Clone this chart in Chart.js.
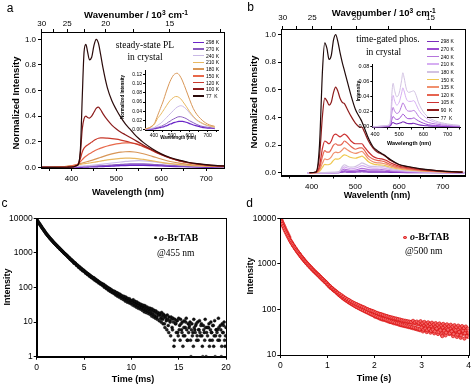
<!DOCTYPE html>
<html><head><meta charset="utf-8">
<script src="https://cdn.jsdelivr.net/npm/chart.js@4.4.1/dist/chart.umd.min.js"></script>
<style>
html,body{margin:0;padding:0;background:#fff;}
#fig{position:relative;width:474px;height:385px;overflow:hidden;background:#fff;font-family:"Liberation Sans",Arial,sans-serif;}
#fig canvas{position:absolute;}
.t{position:absolute;white-space:nowrap;transform:translate(-50%,-50%);line-height:1;color:#000;}
.b{font-weight:bold;}
.r{transform:translate(-50%,-50%) rotate(-90deg);}
.s{font-family:"Liberation Serif","DejaVu Serif",serif;}
sup{font-size:70%;vertical-align:0.45em;line-height:0;}
</style></head><body><div id="fig"></div>
<script>
// ---------------- DATA ----------------
// Panel a: steady-state PL (wavelength nm)
const wlA = [330,360,390,405,412,416,420,424,428,432,436,440,445,450,455,460,465,470,480,490,500,510,520,530,540,550,560,580,600,620,640,660,680,700,720,740];
const a77  = [0,0,0.001,0.005,0.015,0.03,0.15,0.55,0.9,0.96,0.9,0.84,0.86,0.95,1.0,0.97,0.88,0.78,0.62,0.52,0.45,0.39,0.34,0.3,0.26,0.225,0.195,0.145,0.105,0.077,0.056,0.04,0.029,0.021,0.015,0.011];
const a100 = [0,0,0.001,0.005,0.015,0.03,0.12,0.3,0.38,0.4,0.39,0.385,0.4,0.43,0.46,0.47,0.45,0.42,0.37,0.33,0.3,0.275,0.255,0.235,0.215,0.195,0.175,0.135,0.1,0.073,0.053,0.038,0.028,0.02,0.014,0.01];
const a120 = [0,0,0.001,0.005,0.015,0.03,0.07,0.12,0.15,0.165,0.175,0.185,0.197,0.21,0.22,0.227,0.23,0.23,0.228,0.225,0.22,0.213,0.205,0.196,0.186,0.175,0.162,0.13,0.098,0.071,0.051,0.036,0.026,0.018,0.013,0.009];
const a150 = [0,0.001,0.005,0.015,0.022,0.03,0.045,0.06,0.075,0.087,0.097,0.106,0.116,0.126,0.135,0.143,0.15,0.156,0.167,0.176,0.183,0.188,0.191,0.191,0.187,0.18,0.168,0.137,0.103,0.073,0.052,0.036,0.025,0.017,0.012,0.008];
const a180 = [0,0.002,0.008,0.015,0.022,0.026,0.03,0.034,0.038,0.042,0.046,0.05,0.055,0.06,0.066,0.072,0.078,0.084,0.095,0.105,0.113,0.119,0.122,0.123,0.12,0.114,0.106,0.086,0.065,0.046,0.033,0.024,0.017,0.012,0.009,0.007];
const a210 = [0,0.002,0.007,0.013,0.018,0.021,0.024,0.026,0.028,0.03,0.032,0.034,0.037,0.04,0.043,0.046,0.049,0.052,0.058,0.063,0.067,0.07,0.072,0.072,0.07,0.067,0.062,0.051,0.039,0.029,0.021,0.016,0.012,0.009,0.007,0.005];
const a240 = [0,0.001,0.003,0.005,0.007,0.008,0.009,0.01,0.011,0.012,0.013,0.014,0.016,0.018,0.02,0.022,0.024,0.026,0.03,0.034,0.038,0.042,0.046,0.049,0.051,0.052,0.051,0.045,0.036,0.027,0.02,0.015,0.011,0.008,0.006,0.004];
const a270 = [0,0.001,0.002,0.003,0.004,0.004,0.005,0.005,0.006,0.006,0.007,0.007,0.008,0.009,0.01,0.011,0.012,0.013,0.016,0.018,0.021,0.023,0.025,0.027,0.028,0.028,0.027,0.024,0.019,0.015,0.011,0.008,0.006,0.005,0.004,0.003];
const a298 = [0,0.001,0.001,0.002,0.002,0.003,0.003,0.003,0.004,0.004,0.004,0.005,0.005,0.006,0.006,0.007,0.008,0.008,0.01,0.012,0.013,0.015,0.016,0.017,0.018,0.018,0.018,0.016,0.013,0.01,0.008,0.006,0.004,0.003,0.003,0.002];
const legendA = ['298 K','270 K','240 K','210 K','180 K','150 K','120 K','100 K','77  K'];
const colorsA = ['#6a24c8','#8a5cc0','#c9b9e6','#e8b860','#d89656','#e8684a','#c8382a','#8c1c1c','#2a0a0a'];

// Panel b: time-gated phosphorescence
const wlB  = [395,410,418,425,430,435,440,445,450,455,460,465,470,475,480,490,500,510,515,520,530,540,550,560,570,580,600,620,650,700,745];
const b77  = [0,0.005,0.2,0.75,0.94,0.9,0.82,0.85,0.96,1.0,0.95,0.87,0.8,0.74,0.68,0.56,0.46,0.4,0.37,0.33,0.25,0.19,0.16,0.14,0.12,0.095,0.06,0.045,0.028,0.012,0.004];
const b90  = [0,0.005,0.12,0.42,0.54,0.52,0.49,0.51,0.58,0.62,0.59,0.54,0.51,0.5,0.47,0.41,0.36,0.33,0.33,0.3,0.23,0.18,0.15,0.135,0.115,0.09,0.058,0.042,0.026,0.011,0.004];
const b105 = [0,0.003,0.05,0.18,0.23,0.22,0.21,0.23,0.27,0.28,0.27,0.26,0.27,0.28,0.27,0.23,0.21,0.21,0.21,0.19,0.15,0.12,0.105,0.1,0.09,0.072,0.048,0.036,0.022,0.01,0.004];
const b120 = [0,0.002,0.03,0.12,0.16,0.15,0.15,0.17,0.2,0.21,0.2,0.2,0.21,0.23,0.22,0.19,0.17,0.18,0.18,0.165,0.12,0.1,0.09,0.085,0.075,0.06,0.04,0.03,0.019,0.008,0.003];
const b135 = [0,0.001,0.02,0.07,0.1,0.095,0.1,0.115,0.14,0.15,0.145,0.15,0.165,0.18,0.17,0.15,0.14,0.15,0.155,0.14,0.1,0.08,0.072,0.07,0.062,0.05,0.033,0.025,0.016,0.007,0.003];
const b150 = [0,0,0.01,0.04,0.06,0.058,0.06,0.07,0.09,0.1,0.098,0.105,0.12,0.13,0.125,0.11,0.105,0.115,0.12,0.11,0.08,0.064,0.058,0.056,0.05,0.04,0.027,0.02,0.013,0.006,0.002];
const wlBi = [390,420,450,460,465,470,475,480,490,500,510,515,520,530,540,550,560,570,580,600,620,650,700,750];
const b180 = [0,0.001,0.002,0.004,0.015,0.045,0.058,0.05,0.04,0.045,0.062,0.072,0.066,0.05,0.046,0.047,0.048,0.042,0.032,0.02,0.013,0.008,0.004,0.002];
const b210 = [0,0.001,0.002,0.003,0.01,0.032,0.042,0.036,0.029,0.033,0.045,0.052,0.048,0.037,0.034,0.034,0.035,0.03,0.023,0.015,0.01,0.006,0.003,0.002];
const b240 = [0,0,0.001,0.002,0.006,0.02,0.026,0.022,0.018,0.02,0.028,0.032,0.03,0.023,0.021,0.021,0.022,0.019,0.014,0.009,0.006,0.004,0.002,0.001];
const b270 = [0,0,0.001,0.001,0.003,0.01,0.014,0.012,0.01,0.011,0.015,0.017,0.016,0.012,0.011,0.011,0.012,0.01,0.008,0.005,0.003,0.002,0.001,0.001];
const b298 = [0,0,0,0.001,0.002,0.005,0.006,0.005,0.004,0.005,0.006,0.007,0.0065,0.005,0.0045,0.0045,0.005,0.004,0.003,0.002,0.0015,0.001,0.0005,0];
const legendB = ['298 K','270 K','240 K','210 K','180 K','150 K','135 K','120 K','105 K','90  K','77  K'];
const colorsB = ['#7a2cba','#9c4cd2','#b474dc','#d6aef2','#d2c2e2','#efc850','#f0906e','#e66450','#cc3030','#8e1c1c','#200a0a'];

// Top axis: wavenumber (10^3 cm^-1)
const nuTicks  = [30,27.5,25,22.5,20,17.5,15,12.5];
const nuLabels = ['30','','25','','20','','15',''];

// Panel c: decay @455 nm; yC at t = i*0.1 ms, yC2 at t = 0.05 + i*0.1 ms
const C_STEP = 0.1;
const yC = [9200,8300,7600,6900,6300,5700,5200,4750,4350,3950,3600,
 3350,3100,2880,2650,2480,2300,2150,2000,1880,1760,
 1650,1540,1450,1360,1280,1200,1120,1060,990,930,
 880,835,770,740,680,660,600,590,540,520,
 495,450,445,405,400,365,360,325,325,295,
 285,275,255,250,232,228,210,206,195,185,
 178,170,160,158,146,144,134,133,124,120,
 118,106,108,96,99,88,92,80,84,76,
 74,78,66,72,62,68,58,64,55,58,
 52,56,47,53,44,49,41,47,38,42,
 37,44,34,40,31,38,30,35,27,33,
 26,31,24,30,22,28,21,26,20,25,
 18,24,17,22,15,21,14,19,16,18,
 13,19,12,17,9,15,11,16,8,14,
 10,14,7,13,2,12,9,11,5,13,
 8,12,6,10,4,11,7,13,3,9,
 7,10,1,9,5,12,6,8,3,10,
 6,11,4,9,2,8,5,12,1,7,
 7,9,3,10,5,8,2,11,4,6,
 6,13,3,8,1,9,5,10,2,7];
const yC2 = [8800,7900,7200,6600,6000,5450,4950,4550,4150,3780,
 3500,3200,3000,2750,2560,2400,2230,2080,1930,1820,
 1700,1600,1480,1420,1300,1250,1150,1100,1010,960,
 920,850,810,750,720,650,640,580,565,505,
 510,470,430,425,380,385,340,345,305,310,
 300,262,268,238,245,215,222,196,202,178,
 190,162,172,148,157,136,142,125,131,114,
 125,102,113,93,103,85,95,78,88,72,
 80,67,75,61,70,56,64,52,60,48,
 55,45,51,41,48,38,45,36,42,34,
 40,31,38,29,35,27,33,25,31,24,
 29,22,28,20,27,19,25,18,23,17,
 22,15,21,14,20,13,18,12,17,11,
 16,10,15,9,14,7,13,6,12,5,
 11,4,12,6,10,3,9,5,11,4,
 6,3,9,5,2,7,4,10,6,3,
 5,8,3,6,4,2,7,5,9,4,
 3,6,5,8,4,1,6,3,7,5,
 4,7,2,6,5,3,8,4,1,6,
 5,3,7,4,6,2,5,8,3,4];
// Panel d: decay @500 nm; yD at t = i*0.02 s, yD2 at t = 0.01 + i*0.02 s
const D_STEP = 0.02;
const yD = [9500,8400,7500,6700,6000,5400,4900,4450,4050,3700,3400,
 3150,2900,2700,2500,2330,2170,2020,1890,1770,1650,
 1560,1450,1380,1290,1230,1150,1100,1030,990,930,
 890,840,810,760,730,690,665,630,605,575,
 555,520,505,475,460,430,420,395,385,355,
 345,320,318,295,292,272,270,252,250,235,
 232,212,218,196,204,184,190,170,178,160,
 168,150,160,140,150,132,142,125,136,118,
 130,112,124,106,119,101,114,96,110,92,
 104,88,100,84,96,80,93,77,90,74,
 86,71,83,68,80,66,78,63,76,62,
 73,60,71,58,69,56,67,54,66,53,
 64,51,63,50,61,49,60,47,58,46,
 57,45,56,44,55,43,54,42,53,41,
 56,40,52,39,54,38,51,37,55,40,
 50,36,53,38,49,35,52,37,48,34,
 51,36,47,33,50,38,46,32,49,35,
 45,26,48,34,44,31,47,36,43,30,
 46,33,42,29,45,35,41,28,44,32,
 40,27,43,34,39,30,42,26,38,31];
const yD2 = [9900,8900,7900,7100,6400,5700,5150,4700,4250,3850,
 3300,3000,2850,2550,2450,2200,2130,1920,1850,1690,
 1640,1480,1440,1310,1280,1170,1140,1050,1020,940,
 920,850,830,770,750,700,680,640,620,580,
 570,530,515,480,470,440,430,400,392,365,
 355,330,324,300,296,278,272,256,252,238,
 226,220,208,202,192,196,176,182,164,170,
 154,162,144,152,136,145,128,138,121,131,
 114,127,109,121,104,116,99,111,95,107,
 90,102,86,98,82,95,78,92,75,88,
 70,84,68,81,65,79,62,77,60,74,
 59,72,57,70,55,68,53,66,52,64,
 50,62,49,61,48,59,46,58,45,56,
 44,55,43,54,42,53,41,52,40,51,
 39,50,38,49,37,48,36,47,35,46,
 42,33,45,36,41,32,44,35,40,31,
 43,34,39,30,42,37,38,29,41,33,
 37,28,40,32,36,27,39,34,35,29,
 38,30,34,26,37,31,33,25,36,28,
 32,24,35,29,31,23,34,28,30,25];

// ---------------- HELPERS ----------------
const fig = document.getElementById('fig');
const FONT = '"Liberation Sans", Arial, sans-serif';
const framePlugin = {id:'frame', afterDraw(c){
  const a=c.chartArea, x=c.ctx; x.save(); x.strokeStyle='#000'; x.lineWidth=1;
  const l=Math.round(a.left), t=Math.round(a.top), r=Math.round(a.right), b=Math.round(a.bottom);
  x.strokeRect(l+0.5,t+0.5,r-l,b-t); x.restore(); }};

function ax(o){
  const fs=o.fs||8, tl=(o.tl===undefined)?3:o.tl;
  const s = {type:o.type||'linear', position:o.pos, min:o.min, max:o.max, display:true,
    grid:{display:true, drawOnChartArea:false, drawTicks:tl>0, tickLength:tl, color:'#000', lineWidth:1},
    border:{display:true, color:'#000', width:1},
    ticks:{display:o.labels!==false, color:'#000', font:{family:FONT,size:fs}, autoSkip:false, maxRotation:0, minRotation:0,
      padding:(o.pad===undefined)?2:o.pad, callback:o.cb||((v)=>String(v))},
    afterBuildTicks:(sc)=>{ sc.ticks=o.ticks.map(v=>({value:v})); },
    afterFit:(sc)=>{ if(o.pos==='left'||o.pos==='right') sc.width=o.size; else sc.height=o.size; }
  };
  if (o.pos==='top' || o.pos==='bottom') s.axis='x'; else s.axis='y';
  return s;
}
function series(xs, ys, color, w){
  return {data:xs.map((x,i)=>({x:x,y:ys[i]})), borderColor:color, backgroundColor:color, borderWidth:w||1.2,
    pointRadius:0, fill:false, cubicInterpolationMode:'monotone'};
}
function dots(ys, step, offset, r, fillc, edge, bw){
  return {data:ys.map((v,i)=>({x:offset+i*step,y:v})), pointRadius:r, pointBackgroundColor:fillc,
    pointBorderColor:edge, pointBorderWidth:bw, showLine:false};
}
function makeChart(o){
  const cv=document.createElement('canvas');
  cv.width=o.w; cv.height=o.h; cv.style.left=o.x+'px'; cv.style.top=o.y+'px';
  cv.style.width=o.w+'px'; cv.style.height=o.h+'px';
  fig.appendChild(cv);
  return new Chart(cv.getContext('2d'), {
    type:o.type||'line', data:{datasets:o.datasets},
    options:{responsive:false, animation:false, devicePixelRatio:1,
      layout:{padding:o.padding}, parsing:true,
      plugins:{legend:{display:false}, tooltip:{enabled:false}},
      scales:o.scales},
    plugins:o.frame?[framePlugin]:[]
  });
}
function txt(html, x, y, size, cls, extra){
  const d=document.createElement('div'); d.className='t '+(cls||''); d.innerHTML=html;
  d.style.left=x+'px'; d.style.top=y+'px'; d.style.fontSize=size+'px';
  if(extra) Object.assign(d.style, extra);
  fig.appendChild(d); return d;
}
function legend(names, colors, x0, y0, dy, len, fs){
  names.forEach((n,i)=>{
    const y=y0+i*dy;
    const ln=document.createElement('div');
    ln.style.cssText='position:absolute;left:'+x0+'px;top:'+(y-0.75)+'px;width:'+len+'px;height:1.5px;background:'+colors[i];
    fig.appendChild(ln);
    txt(n.replace(/ /g,'&nbsp;'), x0+len+2, y, fs, '', {transform:'translate(0,-50%)'});
  });
}
const lbl100 = (v)=> (v%100===0? String(v):'');
const nuCb = (v,i)=> nuLabels[i];
const nuVals = nuTicks.map(n=>10000/n);

// ---------------- PANEL A ----------------
makeChart({x:0,y:0,w:237,h:200, frame:true, padding:{left:0,top:0,right:13,bottom:0},
  datasets:[
    series(wlA,a77,colorsA[8]), series(wlA,a100,colorsA[7]), series(wlA,a120,colorsA[6]),
    series(wlA,a150,colorsA[5]), series(wlA,a180,colorsA[4]), series(wlA,a210,colorsA[3]),
    series(wlA,a240,colorsA[2]), series(wlA,a270,colorsA[1]), series(wlA,a298,colorsA[0],1.8)],
  scales:{
    x: ax({pos:'bottom',min:332,max:740,ticks:[350,400,450,500,550,600,650,700],cb:lbl100,size:32,pad:3}),
    x2: ax({pos:'top',min:331.5,max:808,ticks:nuVals,cb:nuCb,size:32,pad:0}),
    y: ax({pos:'left',min:-0.005,max:1.057,ticks:[0,0.2,0.4,0.6,0.8,1.0],cb:(v)=>v.toFixed(1),size:41})
  }});
// inset a
makeChart({x:128,y:65,w:95,h:75, padding:{left:0,top:5,right:4.7,bottom:0},
  datasets:[series(wlA,a180,colorsA[4],1), series(wlA,a210,colorsA[3],1), series(wlA,a240,colorsA[2],1),
            series(wlA,a270,colorsA[1],1), series(wlA,a298,colorsA[0],1.2)],
  scales:{
    x: ax({pos:'bottom',min:350,max:760,ticks:[400,450,500,550,600,650,700,750],cb:lbl100,size:10,fs:5,tl:2,pad:1}),
    y: ax({pos:'left',min:-0.001,max:0.13,ticks:[0,0.02,0.04,0.06,0.08,0.1,0.12],cb:(v)=>v.toFixed(2),size:17,fs:5,tl:2,pad:1})
  }});

// ---------------- PANEL B ----------------
makeChart({x:237,y:0,w:237,h:200, frame:true, padding:{left:0,top:0,right:9.3,bottom:0},
  datasets:[
    series(wlB,b77,colorsB[10]), series(wlB,b90,colorsB[9]), series(wlB,b105,colorsB[8]),
    series(wlB,b120,colorsB[7]), series(wlB,b135,colorsB[6]), series(wlB,b150,colorsB[5]),
    series(wlBi,b180,colorsB[4]), series(wlBi,b210,colorsB[3]), series(wlBi,b240,colorsB[2]),
    series(wlBi,b270,colorsB[1]), series(wlBi,b298,colorsB[0])],
  scales:{
    x: ax({pos:'bottom',min:330,max:750,ticks:[350,400,450,500,550,600,650,700],cb:lbl100,size:24.5,pad:3}),
    x2: ax({pos:'top',min:329.5,max:744.1,ticks:nuVals.slice(0,7),cb:nuCb,size:29,pad:3}),
    y: ax({pos:'left',min:-0.02,max:1.041,ticks:[0,0.2,0.4,0.6,0.8,1.0],cb:(v)=>v.toFixed(1),size:44})
  }});
// inset b
makeChart({x:355,y:60,w:112,h:80, padding:{left:0,top:4.7,right:7,bottom:0},
  datasets:[series(wlBi,b180,colorsB[4],1), series(wlBi,b210,colorsB[3],1), series(wlBi,b240,colorsB[2],1),
            series(wlBi,b270,colorsB[1],1), series(wlBi,b298,colorsB[0],1.1)],
  scales:{
    x: ax({pos:'bottom',min:389,max:751,ticks:[400,450,500,550,600,650,700,750],cb:lbl100,size:12.5,fs:5.5,tl:2,pad:2}),
    y: ax({pos:'left',min:-0.0007,max:0.0827,ticks:[0,0.02,0.04,0.06,0.08],cb:(v)=>v.toFixed(2),size:17.3,fs:5.5,tl:2,pad:1})
  }});

// ---------------- PANEL C ----------------
makeChart({x:0,y:200,w:237,h:185, type:'scatter', frame:true, padding:{left:0,top:18.3,right:11,bottom:0},
  datasets:[dots(yC, C_STEP, 0, 1.5, '#111', '#000', 0.4), dots(yC2, C_STEP, 0.05, 1.5, '#222', '#000', 0.4)],
  scales:{
    x: ax({pos:'bottom',min:0,max:20,ticks:[0,5,10,15,20],size:28.3,fs:8.5,pad:3}),
    y: ax({type:'logarithmic',pos:'left',min:1,max:10000,ticks:[1,10,100,1000,10000],size:36.7,fs:8.5,pad:1})
  }});

// ---------------- PANEL D ----------------
makeChart({x:237,y:200,w:237,h:185, type:'scatter', frame:true, padding:{left:0,top:18.3,right:4.7,bottom:0},
  datasets:[dots(yD, D_STEP, 0, 1.7, '#f46a6a', '#d81010', 0.7), dots(yD2, D_STEP, 0.01, 1.7, '#f46a6a', '#d81010', 0.7)],
  scales:{
    x: ax({pos:'bottom',min:0,max:4,ticks:[0,1,2,3,4],size:30,fs:8.5,pad:3}),
    y: ax({type:'logarithmic',pos:'left',min:10,max:10000,ticks:[10,100,1000,10000],size:43.3,fs:8.5,pad:1})
  }});

// ---------------- TEXT ----------------
txt('a',10,8,12); txt('b',250.5,7,12); txt('c',4.5,202.5,12); txt('d',249.5,203,12);
txt('Wavenumber / 10<sup>3</sup> cm<sup>-1</sup>',136,15,9.5,'b');
txt('Wavenumber / 10<sup>3</sup> cm<sup>-1</sup>',383.7,13.3,9.5,'b');
txt('Wavelength (nm)',128,191.7,9,'b');
txt('Wavelenth (nm)',377,195,9,'b');
txt('Normalized Intensity',16,103,9.5,'b r');
txt('Normalized Intensity',254,102,9.5,'b r');
txt('Intensity',7,287,9,'b r');
txt('Intensity',249.5,276,9,'b r');
txt('Time (ms)',133,379,9,'b');
txt('Time (s)',374,378,9,'b');
txt('steady-state PL',145,45.7,9.5,'s');
txt('in crystal',145,58,9.5,'s');
txt('time-gated phos.',388,40,9.5,'s');
txt('in crystal',383.5,52.7,9.5,'s');
txt('<i>o</i>-BrTAB',159,237.7,10,'s b',{transform:'translate(0,-50%)'});
txt('@455 nm',157,254,9.5,'s',{transform:'translate(0,-50%)'});
txt('<i>o</i>-BrTAB',410,237.3,10,'s b',{transform:'translate(0,-50%)'});
txt('@500 nm',405,252,9.5,'s',{transform:'translate(0,-50%)'});
txt('Normalized Intensity',123.3,97,4.5,'b r');
txt('Wavelength (nm)',178.3,137.7,4.5,'b');
txt('Intensity',357.5,91,5,'b r');
txt('Wavelength (nm)',409,144.3,5.5,'b');
// legend markers c, d
(function(){
  const m1=document.createElement('div'); m1.style.cssText='position:absolute;left:154.2px;top:236.2px;width:3px;height:3px;border-radius:50%;background:#111';
  const m2=document.createElement('div'); m2.style.cssText='position:absolute;left:403.3px;top:235.6px;width:3.4px;height:3.4px;border-radius:50%;background:#f46a6a;box-sizing:border-box;border:0.7px solid #d81010';
  fig.appendChild(m1); fig.appendChild(m2);
})();
legend(legendA, colorsA, 193, 42.3, 6.7, 11, 5);
legend(legendB, colorsB, 427, 41.3, 7.64, 11.7, 5);
</script></body></html>
